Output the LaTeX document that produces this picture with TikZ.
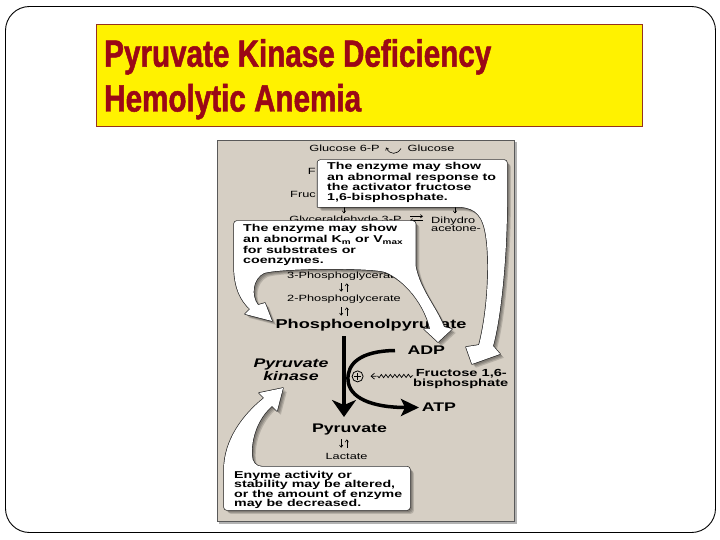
\documentclass[tikz,border=0pt]{standalone}
\usepackage{fontspec}
\setmainfont{Liberation Sans}
\newfontfamily\panelfnt[FakeStretch=1.42]{Liberation Sans}
\newfontfamily\titlefnt[FakeStretch=0.78,FakeBold=1.3]{Liberation Sans}
\usetikzlibrary{arrows.meta,decorations.pathmorphing}
\definecolor{panelbg}{RGB}{214,207,196}
\definecolor{titlered}{RGB}{155,8,22}
\definecolor{titleframe}{RGB}{150,50,30}
\newcommand\updn[3]{%
  \coordinate (#1a) at (#2-2.8,#3-4.2);
  \coordinate (#1b) at (#2-2.8,#3+4.2);
  \coordinate (#1c) at (#2+2.8,#3+4.2);
  \coordinate (#1d) at (#2+2.8,#3-4.2);
  \draw[thinarr] (#1a) -- (#1b);
  \draw[thinarr] (#1c) -- (#1d);}
\def\shapeA{(317.5,207) [rounded corners=3pt] -- (317.5,160) -- (507,160) -- (507,190) [sharp corners] -- (507,205) .. controls (507,255) and (501,318) .. (493,346) -- (500,354) -- (472,364) -- (466,347) -- (479,345) .. controls (488,310) and (490,262) .. (486,236) .. controls (483,216) and (476,208) .. (460,207) -- cycle}
\def\shapeB{(234,224) [rounded corners=3pt] -- (234,221) -- (415.6,221) -- (415.6,240) [sharp corners] -- (415.6,266) .. controls (420,290) and (437,308) .. (444,327) -- (452,329) -- (438,342) -- (424,329) -- (430,329) .. controls (425,305) and (405,280) .. (385,272) .. controls (370,267.5) and (282,268) .. (264,273) .. controls (252,279) and (251,296) .. (258,305) -- (265,303) -- (272,321) -- (245,314) -- (250,309) .. controls (241,301) and (234,288) .. (234,266) -- cycle}
\def\shapeC{(224,470) [rounded corners=3pt] -- (224,510) -- (410,510) -- (410,466.7) -- (265,466.7) [sharp corners] .. controls (256,466.7) and (252,462) .. (252,455) .. controls (251,438) and (258,418) .. (272,406) -- (277,411) -- (283,388) -- (259,393) -- (264,398) .. controls (243,415) and (224,440) .. (224,470) -- cycle}
\begin{document}
\begin{tikzpicture}[x=1pt,y=-1pt,
  pw/.style={font=\panelfnt\fontsize{9}{9}\selectfont, inner sep=0, anchor=base},
  pwb/.style={font=\panelfnt\bfseries\fontsize{12.5}{12.5}\selectfont, inner sep=0, anchor=base},
  pki/.style={font=\panelfnt\bfseries\itshape\fontsize{12.5}{12.5}\selectfont, inner sep=0, anchor=base},
  pfr/.style={font=\panelfnt\bfseries\fontsize{10.3}{10.3}\selectfont, inner sep=0, anchor=base west},
  ct/.style={font=\panelfnt\bfseries\fontsize{10}{10}\selectfont, inner sep=0, anchor=base west},
  thinarr/.style={line width=0.6, -{Straight Barb[length=2.2pt,width=3.4pt]}},
  titletext/.style={font=\titlefnt\bfseries\fontsize{38}{40}\selectfont, text=titlered, inner sep=0, anchor=base west},
  shad/.style={fill=black, opacity=0.15},
]
\useasboundingbox (0,0) rectangle (720,540);
\fill[white] (0,0) rectangle (720,540);
% slide frame and title
\draw[line width=0.9, rounded corners=24pt] (5.5,6.5) rectangle (715.5,532.5);
\draw[fill=yellow, draw=titleframe, line width=0.8] (96,24.5) rectangle (642,126.5);
\node[titletext] (t1) at (104,66.7) {Pyruvate Kinase Deficiency};
\node[titletext] (t2) at (104,111.5) {Hemolytic Anemia};
% panel
\fill[black!30] (219,142) rectangle (516.5,523.5);
\draw[fill=panelbg, draw=black!65, line width=0.7] (217,140) rectangle (514,521);
% pathway
\node[pw] (g6p) at (344.5,152) {Glucose 6-P};
\node[pw] (glc) at (431,152) {Glucose};
\coordinate (h1) at (401,148.5); \coordinate (h2) at (386,147.5);
\draw[thinarr] (h1) .. controls (397,155) and (390,155) .. (h2);
\node[pw, anchor=base east] (f6p) at (316,175) {F};
\node[pw, anchor=base east] (fbp) at (316,198) {Fruc};
\coordinate (d1a) at (344,203); \coordinate (d1b) at (344,213.5);
\draw[thinarr] (d1a) -- (d1b);
\coordinate (d2a) at (455,203); \coordinate (d2b) at (455,213.5);
\draw[thinarr] (d2a) -- (d2b);
\node[pw] (gap) at (345.5,222.7) {Glyceraldehyde 3-P};
\coordinate (e1) at (410,216.3); \coordinate (e2) at (423,216.3);
\coordinate (e3) at (423,220.3); \coordinate (e4) at (410,220.3);
\draw[thinarr] (e1) -- (e2);
\draw[thinarr] (e3) -- (e4);
\node[pw, anchor=base west] (dh1) at (431,223) {Dihydro};
\node[pw, anchor=base west] (dh2) at (431,232) {acetone-};
\node[pw] (pg3) at (344,278) {3-Phosphoglycerate};
\updn{u1}{344}{287.5}
\node[pw] (pg2) at (344,301) {2-Phosphoglycerate};
\updn{u2}{344}{311.5}
\node[pwb, font=\panelfnt\bfseries\fontsize{12.8}{12.8}\selectfont] (pep) at (371,328.5) {Phosphoenolpyruvate};
\coordinate (m1) at (344,336); \coordinate (m2) at (344,417);
\draw[line width=4.5, -{Stealth[length=17pt,width=24pt,inset=5pt]}] (m1) -- (m2);
\node[pwb, anchor=base west] (adp) at (407.4,354) {ADP};
\node[pwb, anchor=base west] (atp) at (421.6,411) {ATP};
\coordinate (c1) at (395,350.5); \coordinate (c2) at (419,407.5);
\draw[line width=3.5, -{Stealth[length=18pt,width=17pt,inset=4pt]}] (c1) .. controls (360,351) and (347,364) .. (348,380) .. controls (349,398) and (372,407.5) .. (c2);
\node[pki] (pk1) at (291,367) {Pyruvate};
\node[pki] (pk2) at (291,380) {kinase};
\node[circle, draw, line width=0.8, minimum size=11pt, inner sep=0] (plus) at (357.6,376.4) {};
\draw[line width=0.8] (plus.center) +(-3.2,0) -- +(3.2,0);
\draw[line width=0.8] (plus.center) +(0,-3.2) -- +(0,3.2);
\node[pfr] (fr1) at (415.6,376.5) {Fructose 1,6-};
\node[pfr] (fr2) at (413,386) {bisphosphate};
\coordinate (s1) at (413,375.8); \coordinate (s2) at (370.5,376.2);
\draw[line width=0.7, decorate, decoration={snake, amplitude=1.6pt, segment length=4.5pt, pre length=1pt, post length=5pt}, -{Straight Barb[length=3.5pt,width=6pt]}] (s1) -- (s2);
\node[pwb] (pyr) at (349.5,432) {Pyruvate};
\updn{u3}{344}{443.6}
\node[pw] (lac) at (346.6,459) {Lactate};
% callout shadows
\foreach \s in {3.8,2.8,1.8} {
  \fill[shad, shift={(\s,\s)}] \shapeA;
  \fill[shad, shift={(\s,\s)}] \shapeB;
  \fill[shad, shift={(\s,\s)}] \shapeC;
}
% callout outlines and fills
\draw[line width=1.4, black!85, line join=round] \shapeA;
\draw[line width=1.4, black!85, line join=round] \shapeB;
\draw[line width=1.4, black!85, line join=round] \shapeC;
\fill[white] \shapeA;
\fill[white] \shapeB;
\fill[white] \shapeC;
% callout texts
\node[ct] (a1) at (327,170) {The enzyme may show};
\node[ct] (a2) at (327,180.3) {an abnormal response to};
\node[ct] (a3) at (327,190.6) {the activator fructose};
\node[ct] (a4) at (327,200.9) {1,6-bisphosphate.};
\node[ct] (b1) at (243,232) {The enzyme may show};
\node[ct] (b2) at (243,242.6) {an abnormal K\textsubscript{m} or V\textsubscript{max}};
\node[ct] (b3) at (243,253.2) {for substrates or};
\node[ct] (b4) at (243,263.8) {coenzymes.};
\node[ct] (k1) at (234,478) {Enyme activity or};
\node[ct] (k2) at (234,487.5) {stability may be altered,};
\node[ct] (k3) at (234,497) {or the amount of enzyme};
\node[ct] (k4) at (234,506.5) {may be decreased.};
\end{tikzpicture}
\end{document}
